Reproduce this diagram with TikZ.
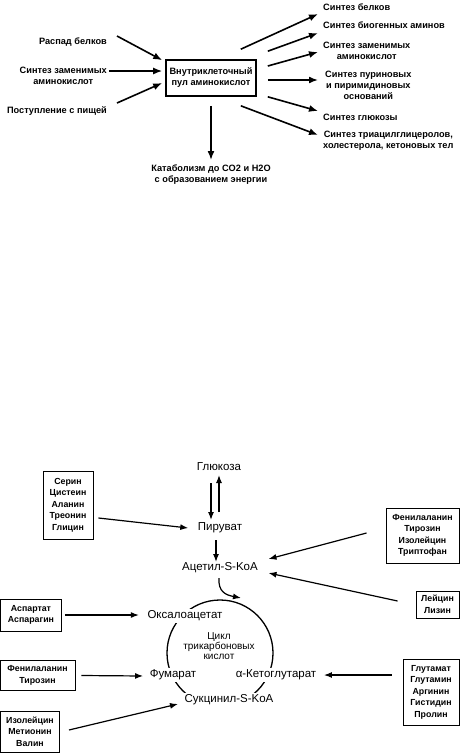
\documentclass[tikz,border=0pt]{standalone}
\usepackage{fontspec}
\setmainfont{Liberation Sans}
\usetikzlibrary{arrows.meta,calc}
\begin{document}
\begin{tikzpicture}[x=1pt,y=-1pt,
  lab/.style={font=\fontsize{9.2}{11}\selectfont\bfseries, align=center, inner sep=0pt},
  pool/.style={draw, line width=1.6pt, font=\fontsize{9.2}{11}\selectfont\bfseries, align=center, inner sep=0pt, minimum width=90pt, minimum height=36pt},
  box/.style={draw, line width=0.9pt, font=\fontsize{8.8}{11.5}\selectfont\bfseries, align=center, inner sep=0pt},
  met/.style={font=\fontsize{11.5}{13}\selectfont, inner sep=1.5pt, fill=white},
  cyct/.style={font=\fontsize{10}{9.7}\selectfont, align=center, inner sep=0pt},
  arrT/.style={line width=1.6pt, -{Latex[length=9pt,width=7pt]}},
  arrB/.style={line width=1.2pt, -{Latex[length=8pt,width=6pt]}}]
\useasboundingbox (0,0) rectangle (460,753);

% ---------- top diagram ----------
\node[pool] (pool) at (211,78) {Внутриклеточный\\пул аминокислот};
\node[lab, anchor=east] (raspad) at (107,42) {Распад белков};
\node[lab, anchor=east] (sintzam) at (107,76) {Синтез заменимых\\аминокислот};
\node[lab, anchor=east] (postup) at (107,111) {Поступление с пищей};

\node[lab, anchor=west] (s1) at (323,7) {Синтез белков};
\node[lab, anchor=west] (s2) at (323,25) {Синтез биогенных аминов};
\node[lab, anchor=west] (s3) at (323,51) {Синтез заменимых\\аминокислот};
\node[lab, anchor=west] (s4) at (325,85) {Синтез пуриновых\\и пиримидиновых\\оснований};
\node[lab, anchor=west] (s5) at (323,117) {Синтез глюкозы};
\node[lab, anchor=west] (s6) at (323,141) {Синтез триацилглицеролов,\\холестерола, кетоновых тел};
\node[lab] (katab) at (211,175) {Катаболизм до CO2 и H2O\\с образованием энергии};

\draw[arrT] ($(raspad.east)+(10,-6)$) -- ($(pool.north west)+(-3,1)$);
\draw[arrT] ($(sintzam.east)+(2,-5)$) -- ($(pool.west)+(-3,-7)$);
\draw[arrT] ($(postup.east)+(10,-8)$) -- ($(pool.west)+(-3,5)$);

\draw[arrT] ($(pool.north east)+(-16,-10)$) -- ($(s1.west)+(-5,7)$);
\draw[arrT] ($(pool.north east)+(11,-8)$) -- ($(s2.west)+(-5,8)$);
\draw[arrT] ($(pool.east)+(11,-12)$) -- ($(s3.west)+(-5,1)$);
\draw[arrT] ($(pool.east)+(11,2)$) -- ($(s4.west)+(-7,-5)$);
\draw[arrT] ($(pool.south east)+(11,0)$) -- ($(s5.west)+(-5,-6)$);
\draw[arrT] ($(pool.south east)+(-16,9)$) -- ($(s6.west)+(-5,-6)$);
\draw[arrT] ($(pool.south)+(0,9)$) -- ($(katab.center)+(0,-15)$);

% ---------- bottom diagram ----------
\node[draw, circle, line width=1.3pt, minimum size=106pt, inner sep=0pt] (cyc) at (220,653) {};
\node[cyct] (cyctxt) at (219,646) {Цикл\\трикарбоновых\\кислот};

\node[met] (glu) at (219,467) {Глюкоза};
\node[met] (pir) at (220,528) {Пируват};
\node[met] (acet) at (220,568) {Ацетил-S-KoA};
\node[met] (oks) at (185,616) {Оксалоацетат};
\node[met] (fum) at (173,675) {Фумарат};
\node[met] (keto) at (276,675) {α-Кетоглутарат};
\node[met] (suk) at (229,700) {Сукцинил-S-KoA};

\node[box, minimum width=50pt, minimum height=68pt] (b1) at (68,505) {Серин\\Цистеин\\Аланин\\Треонин\\Глицин};
\node[box, minimum width=61pt, minimum height=32pt] (b2) at (31,615) {Аспартат\\Аспарагин};
\node[box, minimum width=75pt, minimum height=30pt] (b3) at (37.5,675.5) {Фенилаланин\\Тирозин};
\node[box, minimum width=59pt, minimum height=41pt] (b4) at (30,731.5) {Изолейцин\\Метионин\\Валин};
\node[box, minimum width=73pt, minimum height=55pt] (b5) at (422.5,535.5) {Фенилаланин\\Тирозин\\Изолейцин\\Триптофан};
\node[box, minimum width=43pt, minimum height=27pt] (b6) at (437.5,604.5) {Лейцин\\Лизин};
\node[box, minimum width=56pt, minimum height=66pt] (b7) at (431,692) {Глутамат\\Глутамин\\Аргинин\\Гистидин\\Пролин};

\coordinate (tipA) at (241,598);

\draw[arrB] ($(glu.center)+(-8,16)$) -- ($(pir.center)+(-9,-8)$);
\draw[arrB] ($(pir.center)+(-1,-16)$) -- ($(glu.center)+(0,8)$);
\draw[arrB] ($(pir.center)+(-4,12)$) -- ($(acet.center)+(-4,-6)$);
\draw[arrB] ($(acet.center)+(-1,10)$) .. controls ($(acet.center)+(-2,24)$) and ($(acet.center)+(6,27)$) .. (tipA);

\draw[arrB] ($(b1.east)+(5,13)$) -- ($(pir.west)+(-8,0)$);
\draw[arrB] ($(b2.east)+(3,0)$) -- ($(oks.west)+(-7,-1)$);
\draw[arrB] ($(b3.east)+(6,0)$) -- ($(fum.west)+(-5,1)$);
\draw[arrB] ($(b4.east)+(9,-1.5)$) -- ($(suk.west)+(-5,4)$);
\draw[arrB] ($(b5.west)+(-19,-2.5)$) -- ($(acet.east)+(9,-9)$);
\draw[arrB] ($(b6.west)+(-18,-3.5)$) -- ($(acet.east)+(9,5)$);
\draw[arrB] ($(b7.west)+(-11,-17)$) -- ($(keto.east)+(6,0)$);
\end{tikzpicture}
\end{document}
